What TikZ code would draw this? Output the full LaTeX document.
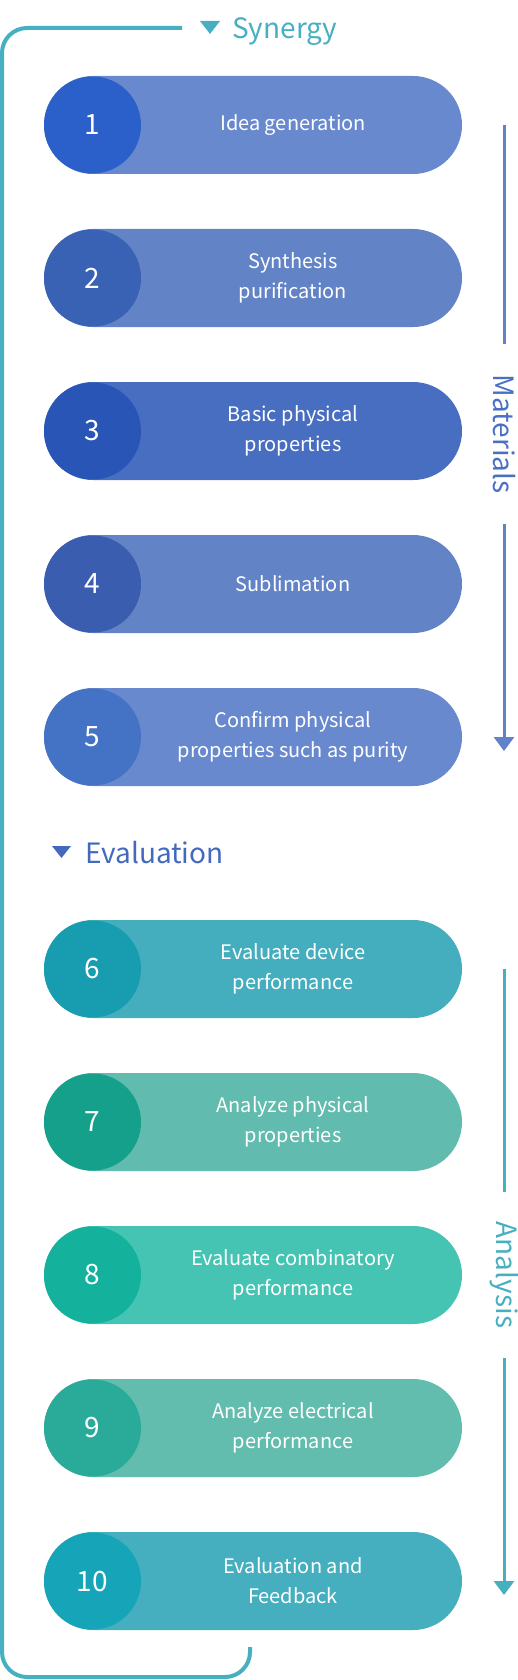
\documentclass[tikz,border=0pt]{standalone}
\usepackage{fontspec}
\setmainfont{Noto Sans CJK KR}
\usepackage{tikz}
\usetikzlibrary{positioning, calc}
\usetikzlibrary{arrows.meta}

\definecolor{synteal}{HTML}{47B0C0}
\definecolor{matblue}{HTML}{6182C9}
\definecolor{matlabel}{HTML}{4A70C2}
\definecolor{evalblue}{HTML}{4369BE}
\definecolor{bara}{HTML}{6889CE}  \definecolor{circa}{HTML}{2B5FCA}
\definecolor{barb}{HTML}{6283C6}  \definecolor{circb}{HTML}{3962B5}
\definecolor{barc}{HTML}{476EC0}  \definecolor{circc}{HTML}{2956B6}
\definecolor{bard}{HTML}{6283C6}  \definecolor{circd}{HTML}{3A5DB0}
\definecolor{bare}{HTML}{6889CE}  \definecolor{circe}{HTML}{4472C5}
\definecolor{barf}{HTML}{45AEBE}  \definecolor{circf}{HTML}{189CAF}
\definecolor{barg}{HTML}{61BBAE}  \definecolor{circg}{HTML}{14A08B}
\definecolor{barh}{HTML}{45C3B3}  \definecolor{circh}{HTML}{14B29C}
\definecolor{bari}{HTML}{62BDAF}  \definecolor{circi}{HTML}{2AAB99}
\definecolor{barj}{HTML}{45AFBF}  \definecolor{circj}{HTML}{15A4B8}

\begin{document}
\begin{tikzpicture}[
  x=1pt, y=-1pt,
  bar/.style={draw=none, rectangle, rounded corners=49pt,
              minimum width=418pt, minimum height=98pt, inner sep=0pt},
  num/.style={circle, minimum size=97pt, inner sep=0pt, text=white,
              font=\fontsize{28}{28}\selectfont},
  txt/.style={text=white, align=center, font=\fontsize{20}{30}\selectfont},
  head/.style={anchor=base west, inner sep=0pt, font=\fontsize{28}{28}\selectfont},
  side/.style={rotate=-90, inner xsep=30pt, inner ysep=0pt,
               font=\fontsize{28}{28}\selectfont},
  flow/.style={line width=3pt},
  tip/.style={-{Triangle[width=20pt,length=14pt]}}
]
  \useasboundingbox (0,0) rectangle (518,1680);

  % Synergy bracket
  \fill[synteal] (200,21) -- (220,21) -- (210,34) -- cycle;
  \node[head, text=synteal] (syn) at (232,39) {Synergy};
  \coordinate (synend) at (182,28);
  \coordinate (fbend) at (250,1647);
  \draw[synteal, line width=4pt, rounded corners=25pt]
    (synend) -- (2,28) -- (2,1677) -- (250,1677) -- (fbend);

  % --- Materials ---
  \node[bar, fill=bara] (p1) at (253,125) {};
  \node[num, fill=circa, anchor=west] (n1) at (p1.west) {1};
  \node[txt] (t1) at (293,125) {Idea generation};

  \node[bar, fill=barb] (p2) at (253,278) {};
  \node[num, fill=circb, anchor=west] (n2) at (p2.west) {2};
  \node[txt] (t2) at (293,278) {Synthesis\\purification};

  \node[bar, fill=barc] (p3) at (253,431) {};
  \node[num, fill=circc, anchor=west] (n3) at (p3.west) {3};
  \node[txt] (t3) at (293,431) {Basic physical\\properties};

  \node[bar, fill=bard] (p4) at (253,584) {};
  \node[num, fill=circd, anchor=west] (n4) at (p4.west) {4};
  \node[txt] (t4) at (293,584) {Sublimation};

  \node[bar, fill=bare] (p5) at (253,737) {};
  \node[num, fill=circe, anchor=west] (n5) at (p5.west) {5};
  \node[txt] (t5) at (293,737) {Confirm physical\\properties such as purity};

  \node[side, text=matlabel] (mat) at (504,434) {Materials};
  \coordinate (matend) at (504,751);
  \draw[flow, matblue] (504,125) -- (mat.west);
  \draw[flow, matblue, tip] (mat.east) -- (matend);

  % --- Evaluation ---
  \fill[evalblue] (52,846) -- (71,846) -- (61.5,858) -- cycle;
  \node[head, text=evalblue] (evl) at (85,863) {Evaluation};

  \node[bar, fill=barf] (p6) at (253,969) {};
  \node[num, fill=circf, anchor=west] (n6) at (p6.west) {6};
  \node[txt] (t6) at (293,969) {Evaluate device\\performance};

  \node[bar, fill=barg] (p7) at (253,1122) {};
  \node[num, fill=circg, anchor=west] (n7) at (p7.west) {7};
  \node[txt] (t7) at (293,1122) {Analyze physical\\properties};

  \node[bar, fill=barh] (p8) at (253,1275) {};
  \node[num, fill=circh, anchor=west] (n8) at (p8.west) {8};
  \node[txt] (t8) at (293,1275) {Evaluate combinatory\\performance};

  \node[bar, fill=bari] (p9) at (253,1428) {};
  \node[num, fill=circi, anchor=west] (n9) at (p9.west) {9};
  \node[txt] (t9) at (293,1428) {Analyze electrical\\performance};

  \node[bar, fill=barj] (p10) at (253,1581) {};
  \node[num, fill=circj, anchor=west] (n10) at (p10.west) {10};
  \node[txt] (t10) at (293,1581) {Evaluation and\\Feedback};

  \node[side, text=synteal] (ana) at (504,1275) {Analysis};
  \coordinate (anaend) at (504,1595);
  \draw[flow, synteal] (504,969) -- (ana.west);
  \draw[flow, synteal, tip] (ana.east) -- (anaend);
\end{tikzpicture}
\end{document}
